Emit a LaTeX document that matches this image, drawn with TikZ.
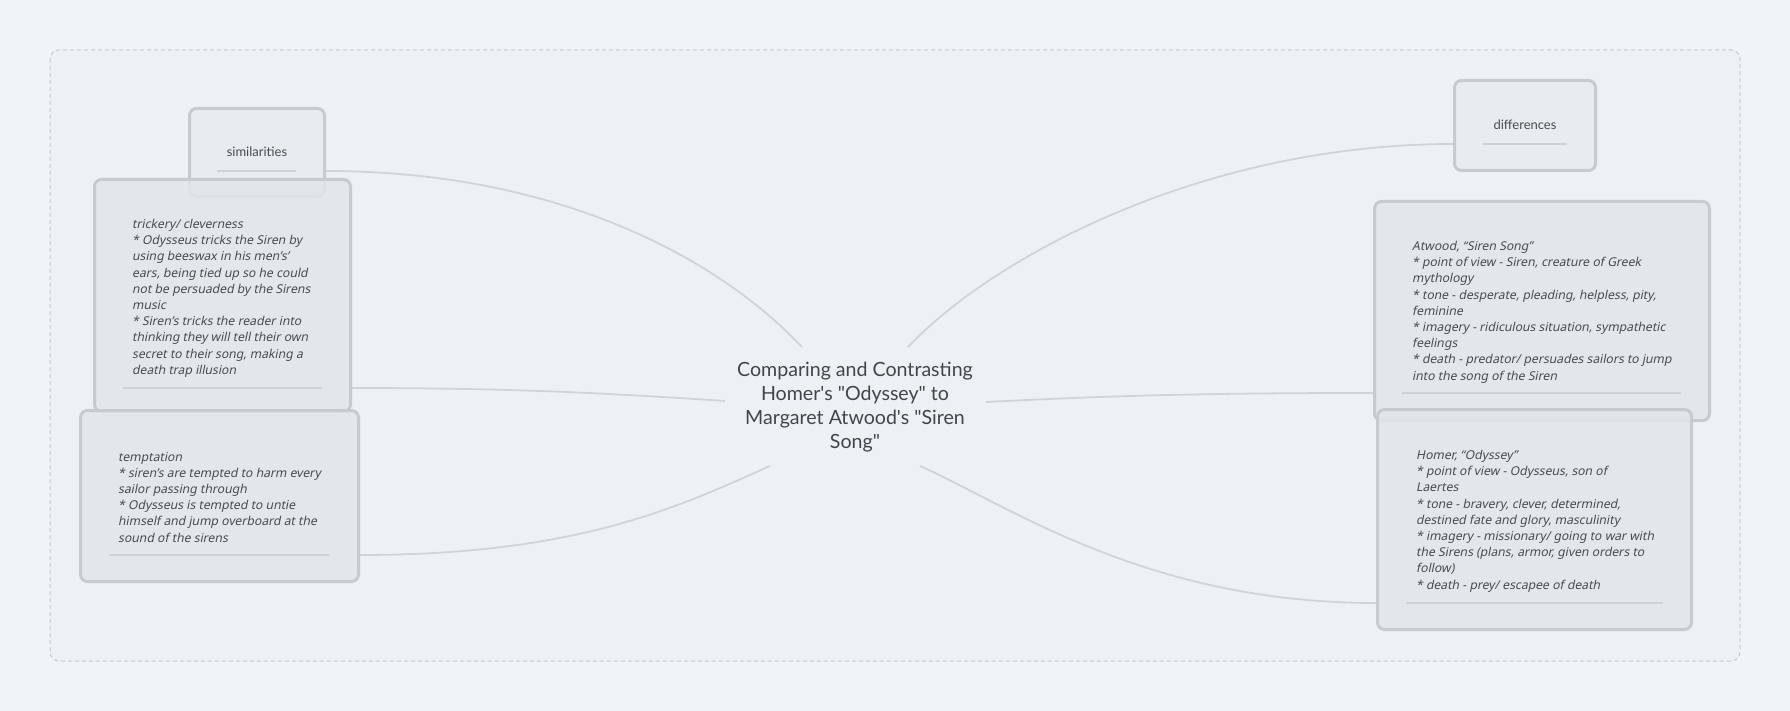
\documentclass[tikz,border=0pt]{standalone}
\usepackage{fontspec}
\setmainfont{Lato}
\newfontfamily\plainfont{Lato}
\newfontfamily\bodyfont{Noto Sans}[FakeSlant=0.2]
\definecolor{pagebg}{HTML}{F0F4F7}
\definecolor{framefill}{HTML}{EDF1F4}
\definecolor{framedraw}{HTML}{C3C9CE}
\definecolor{boxdraw}{HTML}{C7CBCE}
\definecolor{boxfill}{HTML}{E2E6E9}
\definecolor{headfill}{HTML}{E8ECEF}
\definecolor{uline}{HTML}{CDD2D5}
\definecolor{conncol}{HTML}{D0D4D8}
\definecolor{txtcol}{HTML}{464C52}
\definecolor{centcol}{HTML}{40464C}
\tikzset{
  headbox/.style={draw=boxdraw, line width=3pt, fill=headfill, fill opacity=0.85, rounded corners=7pt, inner sep=0pt},
  bodybox/.style={draw=boxdraw, line width=3pt, fill=boxfill, fill opacity=0.85, rounded corners=7pt, inner sep=0pt},
  headtxt/.style={text=txtcol, font=\plainfont\fontsize{13}{16}\selectfont, inner sep=0pt},
  bodytxt/.style={text=txtcol, font=\bodyfont\fontsize{12.2}{16.2}\selectfont, align=left, inner sep=0pt, anchor=north west},
  underl/.style={draw=uline, line width=1.5pt},
  conn/.style={draw=conncol, line width=1.8pt},
}
\begin{document}
\begin{tikzpicture}[x=1pt,y=-1pt]
\useasboundingbox (0,0) rectangle (1790,711);
\fill[pagebg] (0,0) rectangle (1790,711);
\draw[framedraw, fill=framefill, dash pattern=on 4pt off 3pt, line width=1pt, rounded corners=9pt] (50,50) rectangle (1740,661);

% center
\node[text=centcol, font=\plainfont\fontsize{19.6}{24}\selectfont, align=center, inner sep=0pt] (center) at (855,407) {Comparing and Contrasting\\Homer's "Odyssey" to\\Margaret Atwood's "Siren\\Song"};
\coordinate (eSim) at (802,347);
\coordinate (eTri) at (725,401);
\coordinate (eTem) at (770,466);
\coordinate (eDif) at (908,347);
\coordinate (eAtw) at (986,402);
\coordinate (eHom) at (920,466);

% left side
\node[headbox, minimum width=135pt, minimum height=88pt] (sim) at (257,152.5) {};
\node[headtxt] (simt) at (257,152) {similarities};
\coordinate (simA) at (217,171); \coordinate (simB) at (296,171);
\draw[underl] (simA) -- (simB);

\node[bodybox, minimum width=256pt, minimum height=232pt] (tri) at (222.5,295.5) {};
\node[bodytxt] (trit) at (132,219) {trickery/ cleverness\\
* Odysseus tricks the Siren by\\
using beeswax in his men’s’\\
ears, being tied up so he could\\
not be persuaded by the Sirens\\
music\\
* Siren’s tricks the reader into\\
thinking they will tell their own\\
secret to their song, making a\\
death trap illusion};
\coordinate (triA) at (123,388); \coordinate (triB) at (322,388);
\draw[underl] (triA) -- (triB);

\node[bodybox, minimum width=278pt, minimum height=171pt] (tem) at (219.5,496) {};
\node[bodytxt] (temt) at (118,452) {temptation\\
* siren’s are tempted to harm every\\
sailor passing through\\
* Odysseus is tempted to untie\\
himself and jump overboard at the\\
sound of the sirens};
\coordinate (temA) at (109,555); \coordinate (temB) at (329,555);
\draw[underl] (temA) -- (temB);

% right side
\node[headbox, minimum width=141pt, minimum height=90pt] (dif) at (1525,125.5) {};
\node[headtxt] (dift) at (1525,125) {differences};
\coordinate (difA) at (1483,144); \coordinate (difB) at (1567,144);
\draw[underl] (difA) -- (difB);

\node[bodybox, minimum width=335pt, minimum height=219pt] (atw) at (1542,311) {};
\node[bodytxt] (atwt) at (1412,241) {Atwood, “Siren Song”\\
* point of view - Siren, creature of Greek\\
mythology\\
* tone - desperate, pleading, helpless, pity,\\
feminine\\
* imagery - ridiculous situation, sympathetic\\
feelings\\
* death - predator/ persuades sailors to jump\\
into the song of the Siren};
\coordinate (atwA) at (1402,393); \coordinate (atwB) at (1681,393);
\draw[underl] (atwA) -- (atwB);

\node[bodybox, minimum width=314pt, minimum height=220pt] (hom) at (1534.5,519.5) {};
\node[bodytxt] (homt) at (1416,450) {Homer, “Odyssey”\\
* point of view - Odysseus, son of\\
Laertes\\
* tone - bravery, clever, determined,\\
destined fate and glory, masculinity\\
* imagery - missionary/ going to war with\\
the Sirens (plans, armor, given orders to\\
follow)\\
* death - prey/ escapee of death};
\coordinate (homA) at (1406,603); \coordinate (homB) at (1663,603);
\draw[underl] (homA) -- (homB);

% connectors
\draw[conn] (sim.east |- simB) .. controls +(230,0) and +(-85,-90) .. (eSim);
\draw[conn] (tri.east |- triB) .. controls +(160,0) and +(-120,-8) .. (eTri);
\draw[conn] (tem.east |- temB) .. controls +(220,0) and +(-90,40) .. (eTem);
\draw[conn] (dif.west |- difA) .. controls +(-250,0) and +(85,-90) .. (eDif);
\draw[conn] (atw.west |- atwA) .. controls +(-180,0) and +(120,-6) .. (eAtw);
\draw[conn] (hom.west |- homA) .. controls +(-230,0) and +(90,40) .. (eHom);
\end{tikzpicture}
\end{document}
